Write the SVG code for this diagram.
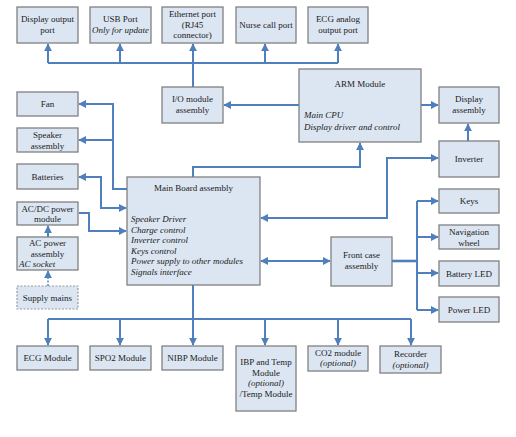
<svg xmlns="http://www.w3.org/2000/svg" width="516" height="437" viewBox="0 0 516 437" font-family="Liberation Serif, Times New Roman, serif">
<style>
.box{fill:#dce6f2;stroke:#808080;stroke-width:1.3}
.dash{fill:#dce6f2;stroke:#9a9a9a;stroke-width:1.2;stroke-dasharray:2,1.5}
text{font-family:'Liberation Serif','Times New Roman',serif;font-size:9px;fill:#1a1a1a}
.c{text-anchor:middle}
.i{font-style:italic}
.ln{fill:none;stroke:#4f7fbd;stroke-width:2}
.dl{fill:none;stroke:#7fa3d4;stroke-width:2;stroke-dasharray:2,1.5}
</style>
<defs>
<marker id="ah" viewBox="0 0 10 10" refX="9" refY="5" markerWidth="4" markerHeight="4" orient="auto-start-reverse" markerUnits="strokeWidth">
<path d="M0,0 L10,5 L0,10 z" fill="#4f7fbd"/>
</marker>
</defs>
<rect width="516" height="437" fill="#fff"/>
<g id="connectors">
<path class="ln" d="M48,63 H338"/>
<path class="ln" d="M48,63 V44" marker-end="url(#ah)"/>
<path class="ln" d="M120,63 V44" marker-end="url(#ah)"/>
<path class="ln" d="M193,87 V44" marker-end="url(#ah)"/>
<path class="ln" d="M265,63 V44" marker-end="url(#ah)"/>
<path class="ln" d="M338,63 V44" marker-end="url(#ah)"/>
<path class="ln" d="M299,105 H224" marker-end="url(#ah)"/>
<path class="ln" d="M421,105 H438" marker-end="url(#ah)"/>
<path class="ln" d="M468,141 V124" marker-end="url(#ah)"/>
<path class="ln" d="M193,177 V167 H360 V143" marker-end="url(#ah)"/>
<path class="ln" d="M261,218 H387 V158 H438" marker-start="url(#ah)" marker-end="url(#ah)"/>
<path class="ln" d="M127,189 H113 V104 H79" marker-end="url(#ah)"/>
<path class="ln" d="M113,140 H79" marker-end="url(#ah)"/>
<path class="ln" d="M79,177 H101 V208 H126" marker-start="url(#ah)" marker-end="url(#ah)"/>
<path class="ln" d="M79,213 H89 V231 H126" marker-end="url(#ah)"/>
<path class="ln" d="M48,237 V226" marker-end="url(#ah)"/>
<path class="dl" d="M48,286 V278"/>
<path class="ln" d="M48,279 V271" marker-end="url(#ah)" style="stroke:#7fa3d4"/>
<path class="ln" d="M261,261 H330" marker-start="url(#ah)" marker-end="url(#ah)"/>
<path class="ln" d="M392,261 H417" style="stroke-width:2.6"/>
<path class="ln" d="M417,201 V310"/>
<path class="ln" d="M417,201 H438" marker-end="url(#ah)"/>
<path class="ln" d="M417,237 H438" marker-end="url(#ah)"/>
<path class="ln" d="M417,273 H438" marker-end="url(#ah)"/>
<path class="ln" d="M417,310 H438" marker-end="url(#ah)"/>
<path class="ln" d="M48,319 H411"/>
<path class="ln" d="M193,285 V345" marker-end="url(#ah)"/>
<path class="ln" d="M48,319 V345" marker-end="url(#ah)"/>
<path class="ln" d="M120,319 V345" marker-end="url(#ah)"/>
<path class="ln" d="M265,319 V345" marker-end="url(#ah)"/>
<path class="ln" d="M338,319 V345" marker-end="url(#ah)"/>
<path class="ln" d="M411,319 V345" marker-end="url(#ah)"/>
</g>
<g id="display-output-port"><rect class="box" x="17" y="7" width="61" height="36"/><text class="c" x="47.5" y="22">Display output</text><text class="c" x="47.5" y="33">port</text></g>
<g id="usb-port"><rect class="box" x="90" y="7" width="61" height="36"/><text class="c" x="120.5" y="22">USB Port</text><text class="c i" x="120.5" y="33">Only for update</text></g>
<g id="ethernet-port"><rect class="box" x="162" y="7" width="61" height="36"/><text class="c" x="192.5" y="17">Ethernet port</text><text class="c" x="192.5" y="27.5">(RJ45</text><text class="c" x="192.5" y="38">connector)</text></g>
<g id="nurse-call-port"><rect class="box" x="236" y="7" width="60" height="36"/><text class="c" x="266" y="28">Nurse call port</text></g>
<g id="ecg-analog-output"><rect class="box" x="308" y="7" width="60" height="36"/><text class="c" x="338" y="22">ECG analog</text><text class="c" x="338" y="33">output port</text></g>
<g id="io-module"><rect class="box" x="162" y="87" width="61" height="36"/><text class="c" x="192.5" y="102">I/O module</text><text class="c" x="192.5" y="113">assembly</text></g>
<g id="arm-module"><rect class="box" x="299" y="69" width="122" height="73"/><text class="c" x="360" y="87">ARM Module</text><text class="i" x="304" y="118">Main CPU</text><text class="i" x="304" y="130">Display driver and control</text></g>
<g id="display-assembly"><rect class="box" x="439" y="87" width="60" height="36"/><text class="c" x="469" y="102">Display</text><text class="c" x="469" y="113">assembly</text></g>
<g id="inverter"><rect class="box" x="439" y="141" width="60" height="36"/><text class="c" x="469" y="162">Inverter</text></g>
<g id="fan"><rect class="box" x="17" y="92" width="61" height="24"/><text class="c" x="47.5" y="107">Fan</text></g>
<g id="speaker-assembly"><rect class="box" x="17" y="128" width="61" height="24"/><text class="c" x="47.5" y="138">Speaker</text><text class="c" x="47.5" y="149">assembly</text></g>
<g id="batteries"><rect class="box" x="17" y="164" width="61" height="25"/><text class="c" x="47.5" y="180">Batteries</text></g>
<g id="acdc-power-module"><rect class="box" x="17" y="202" width="61" height="23"/><text class="c" x="47.5" y="212">AC/DC power</text><text class="c" x="47.5" y="222">module</text></g>
<g id="ac-power-assembly"><rect class="box" x="17" y="237" width="61" height="33"/><text class="c" x="47.5" y="246">AC power</text><text class="c" x="47.5" y="256.5">assembly</text><text class="i" x="19" y="267">AC socket</text></g>
<g id="supply-mains"><rect class="dash" x="17" y="286" width="61" height="23"/><text class="c" x="47.5" y="301">Supply mains</text></g>
<g id="main-board"><rect class="box" x="127" y="177" width="133" height="108"/><text class="c" x="193.5" y="191">Main Board assembly</text><text class="i" x="131" y="222">Speaker Driver</text><text class="i" x="131" y="232.5">Charge control</text><text class="i" x="131" y="243">Inverter control</text><text class="i" x="131" y="253.5">Keys control</text><text class="i" x="131" y="264">Power supply to other modules</text><text class="i" x="131" y="274.5">Signals interface</text></g>
<g id="front-case"><rect class="box" x="331" y="237" width="61" height="49"/><text class="c" x="361.5" y="258">Front case</text><text class="c" x="361.5" y="269">assembly</text></g>
<g id="keys"><rect class="box" x="439" y="189" width="60" height="24"/><text class="c" x="469" y="204">Keys</text></g>
<g id="navigation-wheel"><rect class="box" x="439" y="225" width="60" height="24"/><text class="c" x="469" y="235">Navigation</text><text class="c" x="469" y="245.5">wheel</text></g>
<g id="battery-led"><rect class="box" x="439" y="261" width="60" height="25"/><text class="c" x="469" y="276.5">Battery LED</text></g>
<g id="power-led"><rect class="box" x="439" y="297" width="60" height="25"/><text class="c" x="469" y="312.5">Power LED</text></g>
<g id="ecg-module"><rect class="box" x="17" y="346" width="61" height="24"/><text class="c" x="47.5" y="361">ECG Module</text></g>
<g id="spo2-module"><rect class="box" x="90" y="346" width="61" height="24"/><text class="c" x="120.5" y="361">SPO2 Module</text></g>
<g id="nibp-module"><rect class="box" x="162" y="346" width="61" height="24"/><text class="c" x="192.5" y="361">NIBP Module</text></g>
<g id="ibp-temp-module"><rect class="box" x="236" y="346" width="60" height="65"/><text class="c" x="266" y="365">IBP and Temp</text><text class="c" x="266" y="375.5">Module</text><text class="c i" x="266" y="386">(optional)</text><text class="c" x="266" y="396.5">/Temp Module</text></g>
<g id="co2-module"><rect class="box" x="308" y="346" width="60" height="25"/><text class="c" x="338" y="356">CO2 module</text><text class="c i" x="338" y="366">(optional)</text></g>
<g id="recorder"><rect class="box" x="380" y="346" width="61" height="27"/><text class="c" x="410.5" y="357">Recorder</text><text class="c i" x="410.5" y="367.5">(optional)</text></g>
</svg>
